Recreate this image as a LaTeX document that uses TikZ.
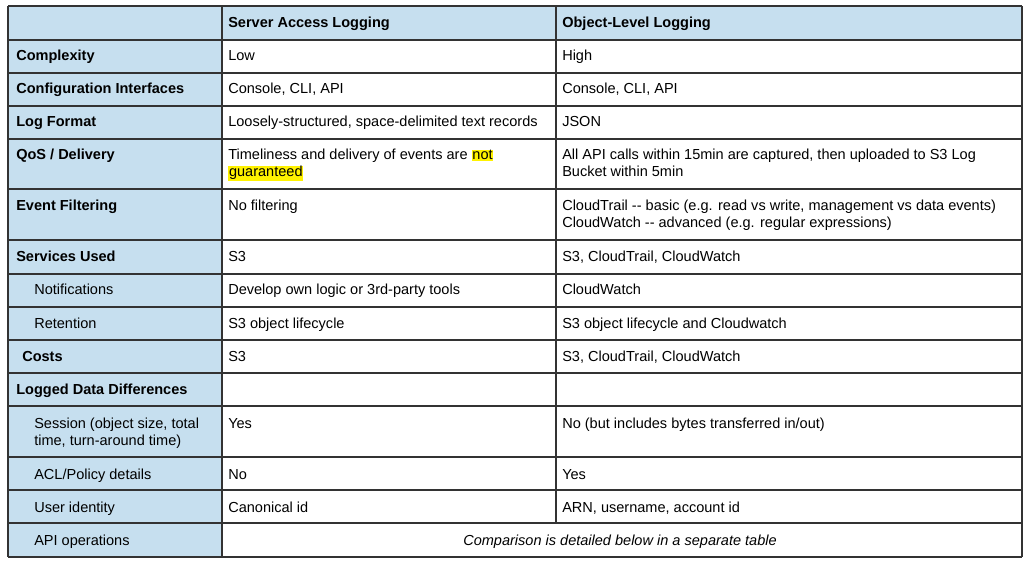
\documentclass[tikz,border=0pt]{standalone}
\usepackage{fontspec}
\setmainfont{Liberation Sans}
\definecolor{hdr}{HTML}{C6DFEF}
\definecolor{grid}{HTML}{333333}
\definecolor{hlc}{HTML}{FFF200}
\newcommand{\hlt}[1]{{\setlength\fboxsep{0.6pt}\colorbox{hlc}{#1}}}
\begin{document}
\begin{tikzpicture}[x=0.75pt,y=-0.75pt,
  cell/.style={anchor=base west,inner sep=0pt,font=\fontsize{10.9}{12.8}\selectfont,align=left},
  bcell/.style={cell,font=\fontsize{10.9}{12.8}\selectfont\bfseries}]
\useasboundingbox (0,0) rectangle (1030,566);
% fills
\fill[hdr] (8,6) rectangle (1022,40);
\fill[hdr] (8,40) rectangle (222,557);
% grid
\foreach \y in {6,40,73,106,139,189,240,274,307,340,373,406,457,490,523,557}
  \draw[grid,line width=1pt] (8,\y) -- (1022,\y);
\draw[grid,line width=1pt] (8,6) -- (8,557);
\draw[grid,line width=1pt] (222,6) -- (222,557);
\draw[grid,line width=1pt] (556,6) -- (556,523);
\draw[grid,line width=1pt] (1022,6) -- (1022,557);
% header
\node[bcell] (h2) at (228,28) {Server Access Logging};
\node[bcell] (h3) at (562,28) {Object-Level Logging};
% rows
\node[bcell] (r1) at (16,61) {Complexity};
\node[cell] (r1b) at (228,61) {Low};
\node[cell] (r1c) at (562,61) {High};
\node[bcell] (r2) at (16,94) {Configuration Interfaces};
\node[cell] (r2b) at (228,94) {Console, CLI, API};
\node[cell] (r2c) at (562,94) {Console, CLI, API};
\node[bcell] (r3) at (16,127) {Log Format};
\node[cell] (r3b) at (228,127) {Loosely-structured, space-delimited text records};
\node[cell] (r3c) at (562,127) {JSON};
\node[bcell] (r4) at (16,160) {QoS / Delivery};
\node[cell] (r4b) at (228,160) {Timeliness and delivery of events are \hlt{not}};
\node[cell] (r4b2) at (228,177) {\hlt{guaranteed}};
\node[cell] (r4c) at (562,160) {All API calls within 15min are captured, then uploaded to S3 Log};
\node[cell] (r4c2) at (562,177) {Bucket within 5min};
\node[bcell] (r5) at (16,211) {Event Filtering};
\node[cell] (r5b) at (228,211) {No filtering};
\node[cell] (r5c) at (562,211) {CloudTrail {-}{-} basic (e.g. read vs write, management vs data events)};
\node[cell] (r5c2) at (562,228) {CloudWatch {-}{-} advanced (e.g. regular expressions)};
\node[bcell] (r6) at (16,262) {Services Used};
\node[cell] (r6b) at (228,262) {S3};
\node[cell] (r6c) at (562,262) {S3, CloudTrail, CloudWatch};
\node[cell] (r7) at (34,295) {Notifications};
\node[cell] (r7b) at (228,295) {Develop own logic or 3rd-party tools};
\node[cell] (r7c) at (562,295) {CloudWatch};
\node[cell] (r8) at (34,328) {Retention};
\node[cell] (r8b) at (228,328) {S3 object lifecycle};
\node[cell] (r8c) at (562,328) {S3 object lifecycle and Cloudwatch};
\node[bcell] (r9) at (22,361) {Costs};
\node[cell] (r9b) at (228,361) {S3};
\node[cell] (r9c) at (562,361) {S3, CloudTrail, CloudWatch};
\node[bcell] (r10) at (16,394) {Logged Data Differences};
\node[cell] (r11) at (34,428) {Session (object size, total};
\node[cell] (r11x) at (34,445) {time, turn-around time)};
\node[cell] (r11b) at (228,428) {Yes};
\node[cell] (r11c) at (562,428) {No (but includes bytes transferred in/out)};
\node[cell] (r12) at (34,479) {ACL/Policy details};
\node[cell] (r12b) at (228,479) {No};
\node[cell] (r12c) at (562,479) {Yes};
\node[cell] (r13) at (34,512) {User identity};
\node[cell] (r13b) at (228,512) {Canonical id};
\node[cell] (r13c) at (562,512) {ARN, username, account id};
\node[cell] (r14) at (34,545) {API operations};
\node[cell,anchor=base,font=\fontsize{10.9}{12.8}\selectfont\itshape] (r14b) at (620,545) {Comparison is detailed below in a separate table};
\end{tikzpicture}
\end{document}
